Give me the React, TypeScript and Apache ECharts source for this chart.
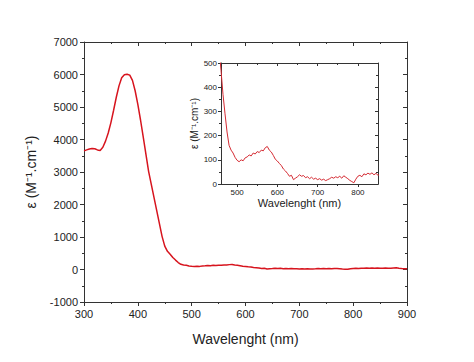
import React, { useEffect, useRef } from "react";
import * as echarts from "echarts";

const wavelengths: number[] = [
  300, 305, 310, 315, 320, 325, 330, 335, 340, 345, 350, 355, 360, 365, 370, 375, 380, 385, 390, 395,
  400, 405, 410, 415, 420, 425, 430, 435, 440, 445, 450, 455, 460, 465, 470, 475, 480, 485, 490, 495,
  500, 505, 510, 515, 520, 525, 530, 535, 540, 545, 550, 555, 560, 565, 570, 575, 580, 585, 590, 595,
  600, 605, 610, 615, 620, 625, 630, 635, 640, 645, 650, 655, 660, 665, 670, 675, 680, 685, 690, 695,
  700, 705, 710, 715, 720, 725, 730, 735, 740, 745, 750, 755, 760, 765, 770, 775, 780, 785, 790, 795,
  800, 805, 810, 815, 820, 825, 830, 835, 840, 845, 850, 855, 860, 865, 870, 875, 880, 885, 890, 895,
  900,
];

const epsilon: number[] = [
  3650, 3680, 3710, 3725, 3715, 3680, 3665, 3760, 3950, 4200, 4520, 4900, 5300, 5650, 5900, 5990, 6010, 5980, 5820, 5500,
  5080, 4600, 4080, 3550, 3020, 2620, 2220, 1820, 1420, 1020, 720, 560, 470, 370, 290, 215, 160, 140, 128, 110,
  98, 92, 100, 96, 108, 112, 120, 116, 128, 124, 134, 130, 140, 137, 150, 155, 140, 132, 118, 102,
  95, 85, 76, 62, 54, 44, 32, 36, 18, 24, 30, 38, 32, 35, 26, 30, 22, 28, 20, 24,
  18, 22, 16, 20, 14, 18, 22, 28, 24, 30, 26, 32, 24, 34, 28, 22, 15, 10, 5, 20,
  32, 36, 30, 42, 38, 45, 40, 46, 38, 44, 36, 40, 45, 38, 42, 48, 52, 40, 30, 25,
  22,
];

const mainXTicks = { min: 300, max: 900, interval: 100 };
const mainYTicks = { min: -1000, max: 7000, interval: 1000 };
const insetXRange = { min: 460, max: 850 };
const insetXMajor: number[] = [500, 600, 700, 800];
const insetXMinor: number[] = [550, 650, 750];
const insetYTicks = { min: 0, max: 500, interval: 100 };

const xName = "Wavelenght (nm)";
const yName = "ε (M⁻¹.cm⁻¹)";

export default function App() {
  const ref = useRef<HTMLDivElement>(null);
  useEffect(() => {
    if (!ref.current) return;
    const chart = echarts.init(ref.current, undefined, { renderer: "svg" });
    const pts = wavelengths.map((w, i) => [w, epsilon[i]]);
    const font = "Liberation Sans, Arial, sans-serif";
    const axisColor = "#333";
    const lineStyle = { color: axisColor, width: 1 };
    const fmt = (v: number) => String(v);

    const outer = (gridIndex: number, r: any, fs: number, name: string, gap: number, nfs: number) => ({
      type: "value",
      gridIndex,
      ...r,
      name,
      nameLocation: "middle",
      nameGap: gap,
      nameTextStyle: { fontFamily: font, fontSize: nfs, color: "#222" },
      axisLine: { show: true, onZero: false, lineStyle },
      axisTick: { show: true, inside: false, length: gridIndex === 0 ? 4 : 3, lineStyle },
      minorTick: { show: true, splitNumber: 2, length: 2, lineStyle },
      axisLabel: { fontFamily: font, fontSize: fs, color: "#222", margin: gridIndex === 0 ? 6 : 4, formatter: fmt },
      splitLine: { show: false },
    });
    const mirror = (gridIndex: number, r: any, position: string) => ({
      type: "value",
      gridIndex,
      ...r,
      position,
      axisLine: { show: true, onZero: false, lineStyle },
      axisTick: { show: true, inside: true, length: gridIndex === 0 ? 4 : 3, lineStyle },
      minorTick: { show: true, splitNumber: 2, length: 2, lineStyle },
      axisLabel: { show: false },
      splitLine: { show: false },
    });
    const customX = (position: string, values: number[], inside: boolean, len: number, labels: boolean) => ({
      type: "value",
      gridIndex: 1,
      ...insetXRange,
      position,
      axisLine: { show: true, onZero: false, lineStyle },
      axisTick: { show: true, inside, length: len, lineStyle, customValues: values },
      minorTick: { show: false },
      axisLabel: labels
        ? { show: true, customValues: values, fontFamily: font, fontSize: 8, color: "#222", margin: 4, formatter: fmt }
        : { show: false },
      splitLine: { show: false },
    });

    chart.setOption({
      animation: false,
      backgroundColor: "#ffffff",
      grid: [
        { left: 84, top: 42, right: 67, bottom: 60 },
        { left: 221, top: 63, width: 157, height: 121 },
      ],
      xAxis: [
        outer(0, mainXTicks, 11, xName, 30, 14),
        mirror(0, mainXTicks, "top"),
        {
          ...customX("bottom", insetXMajor, false, 3, true),
          name: xName,
          nameLocation: "middle",
          nameGap: 13,
          nameTextStyle: { fontFamily: font, fontSize: 11, color: "#222" },
        },
        customX("bottom", insetXMinor, false, 2, false),
        customX("top", insetXMajor, true, 3, false),
        customX("top", insetXMinor, true, 2, false),
      ],
      yAxis: [
        { ...outer(0, mainYTicks, 11, yName, 46, 14), nameRotate: 90 },
        mirror(0, mainYTicks, "right"),
        { ...outer(1, insetYTicks, 8, yName, 22, 10), nameRotate: 90 },
        mirror(1, insetYTicks, "right"),
      ],
      series: [
        {
          type: "line",
          xAxisIndex: 0,
          yAxisIndex: 0,
          data: pts,
          showSymbol: false,
          lineStyle: { color: "#d7141e", width: 1.5 },
          clip: true,
        },
        {
          type: "line",
          xAxisIndex: 2,
          yAxisIndex: 2,
          data: pts,
          showSymbol: false,
          lineStyle: { color: "#d42a32", width: 1 },
          clip: true,
        },
      ],
    });
    return () => chart.dispose();
  }, []);
  return (
    <div
      ref={ref}
      style={{ position: "fixed", left: 0, top: 0, width: 474, height: 362, background: "#fff" }}
    />
  );
}
